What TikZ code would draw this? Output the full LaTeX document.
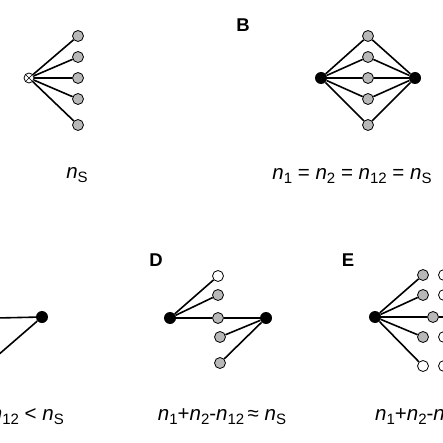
\documentclass[tikz,border=0pt]{standalone}
\usepackage{fontspec}
\setmainfont{Liberation Sans}
\newcommand\nsb[1]{\textit{n}\raisebox{-4pt}{\fontsize{15}{15}\selectfont #1}}
\begin{document}
\begin{tikzpicture}[x=1pt,y=-1pt,
  conn/.style={line width=1.6pt,black},
  gnode/.style={circle,draw=black,line width=0.8pt,fill=black!28,minimum size=11pt,inner sep=0pt},
  wnode/.style={circle,draw=black,line width=0.8pt,fill=white,minimum size=11pt,inner sep=0pt},
  bnode/.style={circle,fill=black,minimum size=12pt,inner sep=0pt},
  xnode/.style={circle,draw=black,line width=0.8pt,fill=white,minimum size=10pt,inner sep=0pt},
  lbl/.style={font=\fontsize{20.5}{24}\selectfont,inner sep=0pt},
  letter/.style={font=\fontsize{18.5}{22}\selectfont\bfseries,inner sep=0pt}]
\useasboundingbox (0,0) rectangle (443,443);
\clip (0,0) rectangle (443,443);
\fill[white] (0,0) rectangle (443,443);

% ---------- Panel A ----------
\node[xnode] (a0) at (29,78) {};
\node[gnode] (a1) at (78,36) {};
\node[gnode] (a2) at (78,57) {};
\node[gnode] (a3) at (78,78) {};
\node[gnode] (a4) at (78,99) {};
\node[gnode] (a5) at (78,125) {};
\foreach \i in {1,...,5} \draw[conn] (a0) -- (a\i);
\draw[line width=0.7pt] (a0.45) -- (a0.225) (a0.135) -- (a0.315);
\node[lbl,anchor=base] (la) at (77,179) {\nsb{S}};

% ---------- Panel B ----------
\node[letter] (tb) at (243,25) {B};
\node[bnode] (bl) at (321,78) {};
\node[bnode] (br) at (415,78) {};
\node[gnode] (b1) at (368,36) {};
\node[gnode] (b2) at (368,57) {};
\node[gnode] (b3) at (368,78) {};
\node[gnode] (b4) at (368,99) {};
\node[gnode] (b5) at (368,125) {};
\foreach \i in {1,...,5} {\draw[conn] (bl) -- (b\i); \draw[conn] (b\i) -- (br);}
\node[lbl,anchor=base] (lb) at (352,180) {\nsb{1} = \nsb{2} = \nsb{12} = \nsb{S}};

% ---------- Panel C ----------
\node[bnode] (cr) at (42,317) {};
\coordinate (c1) at (-3,318);
\coordinate (c2) at (-3,356);
\draw[conn] (c1) -- (cr);
\draw[conn] (c2) -- (cr);
\node[lbl,anchor=base east] (lc) at (64,420) {\nsb{12} < \nsb{S}};

% ---------- Panel D ----------
\node[letter] (td) at (156,260) {D};
\node[bnode] (dl) at (170,318) {};
\node[bnode] (dr) at (266,318) {};
\node[wnode] (d1) at (218,276) {};
\node[gnode] (d2) at (218,295) {};
\node[gnode] (d3) at (218,318) {};
\node[gnode] (d4) at (220,337) {};
\node[gnode] (d5) at (220,363) {};
\draw[conn] (dl) -- (d1);
\draw[conn] (dl) -- (d2);
\draw[conn] (dl) -- (d3);
\draw[conn] (d3) -- (dr);
\draw[conn] (dr) -- (d4);
\draw[conn] (dr) -- (d5);
\node[lbl,anchor=base] (ld) at (222,420) {\nsb{1}+\nsb{2}-\nsb{12}\,≈ \nsb{S}};

% ---------- Panel E ----------
\node[letter] (te) at (348,260) {E};
\node[bnode] (el) at (375,317) {};
\node[gnode] (e1) at (423,275) {};
\node[gnode] (e2) at (423,295) {};
\node[gnode] (e3) at (433,317) {};
\node[gnode] (e4) at (423,337) {};
\node[wnode] (e5) at (423,366) {};
\node[wnode] (f1) at (444,275) {};
\node[wnode] (f2) at (444,295) {};
\node[wnode] (f4) at (444,337) {};
\node[wnode] (f5) at (444,366) {};
\coordinate (eend) at (450,317);
\foreach \i in {1,...,5} \draw[conn] (el) -- (e\i);
\draw[conn] (e3) -- (eend);
\node[lbl,anchor=base west] (le) at (375,420) {\nsb{1}+\nsb{2}-\nsb{12}};
\end{tikzpicture}
\end{document}
